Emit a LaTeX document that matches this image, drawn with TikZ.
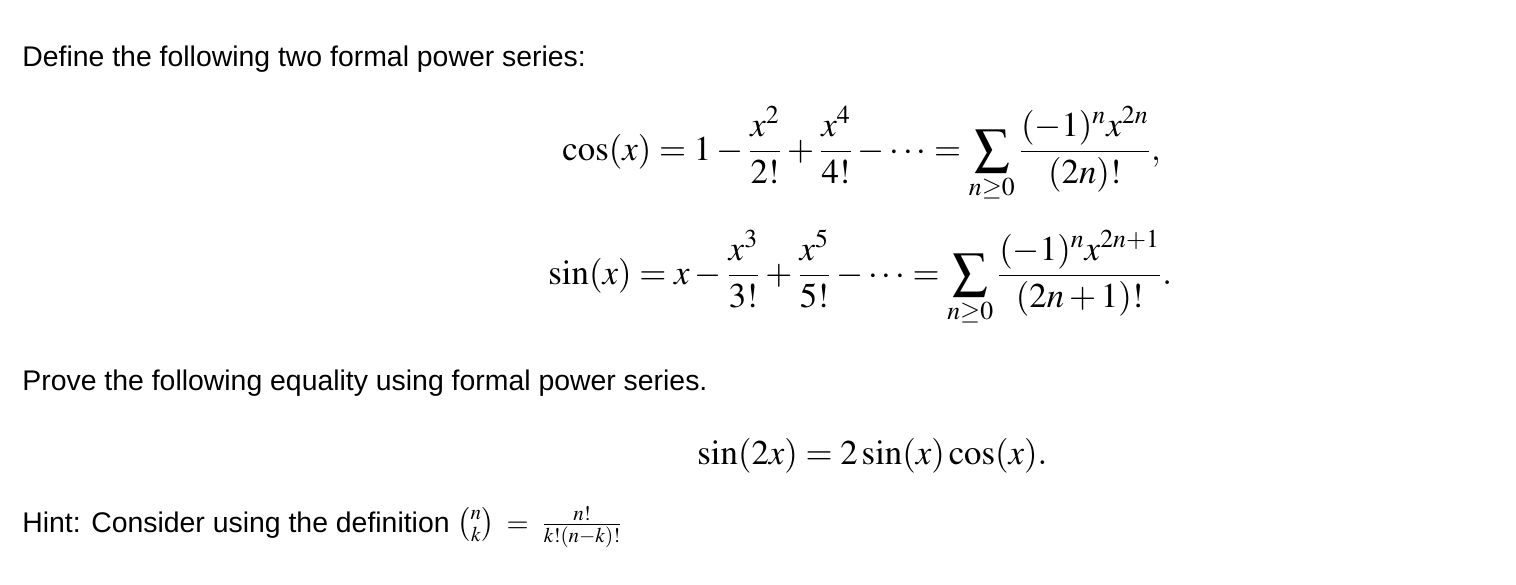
\documentclass[tikz,border=0pt]{standalone}
\usepackage{amsmath}
\usepackage{mathptmx}
\usepackage{fontspec}
\setmainfont{Liberation Sans}
\begin{document}
\begin{tikzpicture}[x=0.5pt,y=-0.5pt]
\tikzset{txt/.style={anchor=base west,inner sep=0pt,font=\fontsize{14.2}{17}\selectfont},
  eq/.style={anchor=base west,inner sep=0pt,font=\fontsize{17.4}{21}\selectfont}}
\useasboundingbox (0,0) rectangle (1516,584);
\node[txt] (t1) at (22,66) {Define the following two formal power series:};
\node[eq] (e1) at (562,160) {$\displaystyle \cos(x) = 1-\frac{x^2}{2!}+\frac{x^4}{4!}-\cdots=\sum_{n\ge 0}\frac{(-1)^n x^{2n}}{(2n)!},$};
\node[eq] (e2) at (548,284) {$\displaystyle \sin(x) = x-\frac{x^3}{3!}+\frac{x^5}{5!}-\cdots=\sum_{n\ge 0}\frac{(-1)^n x^{2n+1}}{(2n+1)!}.$};
\node[txt] (t2) at (22,390) {Prove the following equality using formal power series.};
\node[eq] (e3) at (697,464) {$\sin(2x) = 2\sin(x)\cos(x).$};
\node[txt] (t3) at (22,532) {Hint: Consider using the definition $\binom{n}{k}\;=\;\frac{n!}{k!(n-k)!}$};
\end{tikzpicture}
\end{document}
